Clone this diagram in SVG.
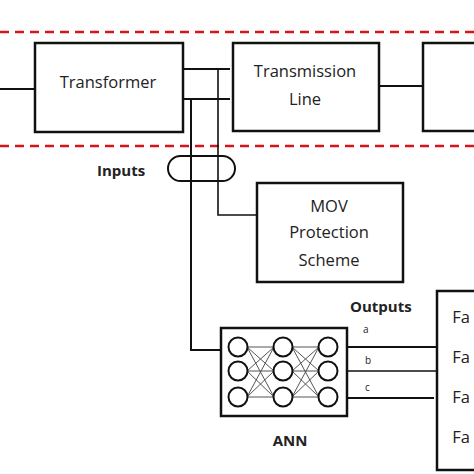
<svg xmlns="http://www.w3.org/2000/svg" width="474" height="474" viewBox="0 0 474 474">
<style>
.box{fill:#fff;stroke:#111;stroke-width:2.5}
.ln{fill:none;stroke:#111;stroke-width:2}
.thin{fill:none;stroke:#111;stroke-width:1.6}
.dash{fill:none;stroke:#d7141a;stroke-width:2.5;stroke-dasharray:9 6}
.t{font-family:"Open Sans","Liberation Sans",sans-serif;font-size:16.5px;fill:#222;text-anchor:middle}
.b{font-family:"Open Sans","Liberation Sans",sans-serif;font-size:15px;font-weight:bold;fill:#222}
.s{font-family:"Open Sans","Liberation Sans",sans-serif;font-size:10px;fill:#222}
.nn{fill:#fff;stroke:#111;stroke-width:2}
.w{stroke:#555;stroke-width:1}
</style>
<rect width="474" height="474" fill="#fff"/>
<line class="dash" x1="0" y1="32" x2="474" y2="32"/>
<line class="dash" x1="0" y1="146" x2="474" y2="146"/>
<g id="connectors">
<line class="ln" x1="0" y1="89" x2="35" y2="89"/>
<line class="ln" x1="183" y1="69" x2="230" y2="69"/>
<line class="ln" x1="183" y1="99" x2="230" y2="99"/>
<line class="ln" x1="379" y1="86" x2="423" y2="86"/>
<polyline class="thin" points="218,69 218,215 257,215"/>
<polyline class="ln" points="191,99 191,350 221,350"/>
<line class="ln" x1="347" y1="347" x2="437" y2="347" stroke-width="2.5"/>
<line class="thin" x1="347" y1="371" x2="437" y2="371"/>
<line class="ln" x1="347" y1="398" x2="434" y2="398"/>
</g>
<g id="inputs">
<rect x="168" y="156" width="67" height="25" rx="12.5" fill="none" stroke="#111" stroke-width="2"/>
<text class="b" x="97" y="176">Inputs</text>
</g>
<g id="transformer">
<rect class="box" x="35" y="43" width="148" height="89"/>
<text class="t" x="108" y="88">Transformer</text>
</g>
<g id="transmission-line">
<rect class="box" x="233" y="43" width="146" height="88"/>
<text class="t" x="305" y="77">Transmission</text>
<text class="t" x="305" y="105">Line</text>
</g>
<g id="right-box">
<rect class="box" x="423" y="43" width="60" height="88"/>
</g>
<g id="mov">
<rect class="box" x="257" y="183" width="146" height="99"/>
<text class="t" x="329" y="212">MOV</text>
<text class="t" x="329" y="238">Protection</text>
<text class="t" x="329" y="266">Scheme</text>
</g>
<g id="ann">
<rect class="box" x="221" y="328" width="126" height="88"/>
<g class="w">
<line x1="247" y1="347" x2="274" y2="347"/><line x1="247" y1="347" x2="274" y2="371"/><line x1="247" y1="347" x2="274" y2="397"/>
<line x1="247" y1="371" x2="274" y2="347"/><line x1="247" y1="371" x2="274" y2="371"/><line x1="247" y1="371" x2="274" y2="397"/>
<line x1="247" y1="397" x2="274" y2="347"/><line x1="247" y1="397" x2="274" y2="371"/><line x1="247" y1="397" x2="274" y2="397"/>
<line x1="292" y1="347" x2="319" y2="347"/><line x1="292" y1="347" x2="319" y2="371"/><line x1="292" y1="347" x2="319" y2="397"/>
<line x1="292" y1="371" x2="319" y2="347"/><line x1="292" y1="371" x2="319" y2="371"/><line x1="292" y1="371" x2="319" y2="397"/>
<line x1="292" y1="397" x2="319" y2="347"/><line x1="292" y1="397" x2="319" y2="371"/><line x1="292" y1="397" x2="319" y2="397"/>
</g>
<circle class="nn" cx="238" cy="347" r="9.5"/><circle class="nn" cx="238" cy="371" r="9.5"/><circle class="nn" cx="238" cy="397" r="9.5"/>
<circle class="nn" cx="283" cy="347" r="9.5"/><circle class="nn" cx="283" cy="371" r="9.5"/><circle class="nn" cx="283" cy="397" r="9.5"/>
<circle class="nn" cx="328" cy="347" r="9.5"/><circle class="nn" cx="328" cy="371" r="9.5"/><circle class="nn" cx="328" cy="397" r="9.5"/>
<text class="b" x="290" y="446" text-anchor="middle">ANN</text>
</g>
<g id="outputs">
<text class="b" x="350" y="312">Outputs</text>
<text class="s" x="363" y="333">a</text>
<text class="s" x="365" y="364">b</text>
<text class="s" x="365" y="391">c</text>
</g>
<g id="fault-box">
<rect class="box" x="437" y="291" width="50" height="179"/>
<text class="t" x="461" y="323" text-anchor="start">Fa</text>
<text class="t" x="461" y="363" text-anchor="start">Fa</text>
<text class="t" x="461" y="403" text-anchor="start">Fa</text>
<text class="t" x="461" y="443" text-anchor="start">Fa</text>
</g>
</svg>
